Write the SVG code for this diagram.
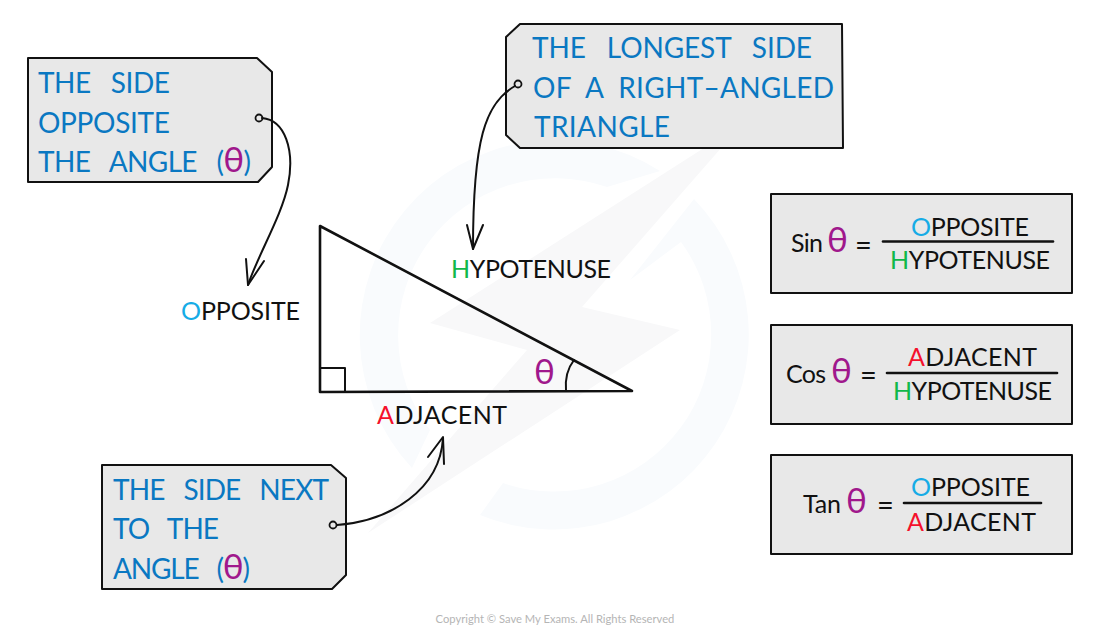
<svg xmlns="http://www.w3.org/2000/svg" width="1100" height="641" viewBox="0 0 1100 641">
<style>
text{font-family:"Lato","Liberation Sans",sans-serif;}
.box{fill:#e8e8e8;stroke:#111;stroke-width:2;stroke-linejoin:round}
.note{font-size:28px;fill:#0a78c2;font-weight:400}
.lab{font-size:25px;fill:#111}
.eq{font-size:29px;fill:#111}
.th{fill:#a0188c;font-size:35px}
.o{fill:#16ace6}.h{fill:#12b84a}.a{fill:#f5102c}
.line{fill:none;stroke:#111;stroke-width:2;stroke-linecap:round;stroke-linejoin:round}
.thick{stroke-width:2.6}
.dot{fill:none;stroke:#111;stroke-width:1.8}
.wm{fill:#f9fbfd}
</style>
<g id="watermark">
<path class="wm" d="M412 468A195 195 0 0 1 660 171L607 187A157 157 0 0 0 430 430Z"/>
<path class="wm" d="M694 199A195 195 0 0 1 480 515L503 483A157 157 0 0 0 681 242L630 280Z"/>
<polygon points="743,123 430,323 527,350 368,533 680,330 582,307" fill="#f8f8f9"/>
</g>
<g id="note-opposite">
<polygon class="box" points="28,58 257,58 272,72 272,167 258,182 28,182"/>
<text class="note" x="38" y="93" textLength="132" lengthAdjust="spacing" xml:space="preserve">THE   SIDE</text>
<text class="note" x="38" y="133" textLength="132" lengthAdjust="spacing">OPPOSITE</text>
<text class="note" x="38" y="172" xml:space="preserve" textLength="213" lengthAdjust="spacing">THE   ANGLE   (<tspan class="th">θ</tspan>)</text>
</g>
<g id="note-hypotenuse">
<polygon class="box" points="520,24 842,24 843,148 520,148 506,135 506,37"/>
<text class="note" x="532" y="58" xml:space="preserve" textLength="280" lengthAdjust="spacing">THE   LONGEST   SIDE</text>
<text class="note" x="533" y="98" xml:space="preserve" textLength="301" lengthAdjust="spacing">OF  A  RIGHT–ANGLED</text>
<text class="note" x="534" y="137" textLength="136" lengthAdjust="spacing">TRIANGLE</text>
</g>
<g id="note-adjacent">
<polygon class="box" points="102,465 331,465 346,478 346,575 332,589 102,589"/>
<text class="note" x="113" y="500" xml:space="preserve" textLength="216" lengthAdjust="spacing">THE   SIDE   NEXT</text>
<text class="note" x="113" y="539" xml:space="preserve" textLength="106" lengthAdjust="spacing">TO   THE</text>
<text class="note" x="113" y="579" xml:space="preserve" textLength="137" lengthAdjust="spacing">ANGLE   (<tspan class="th">θ</tspan>)</text>
</g>
<g id="triangle">
<polygon class="line thick" points="320,226 320,392 632,391"/>
<polyline class="line" points="320,368 345,368 345,392"/>
<path class="line" d="M574 360C567 369 565 380 566 391"/>
<text class="th" x="534" y="384">θ</text>
<text class="lab" x="181" y="320" textLength="119" lengthAdjust="spacing"><tspan class="o">O</tspan>PPOSITE</text>
<text class="lab" x="451" y="278" textLength="160" lengthAdjust="spacing"><tspan class="h">H</tspan>YPOTENUSE</text>
<text class="lab" x="377" y="424" textLength="130" lengthAdjust="spacing"><tspan class="a">A</tspan>DJACENT</text>
</g>
<g id="connectors">
<circle class="dot" cx="259" cy="118" r="3.5"/>
<path class="line" d="M262 118C285 120 295 150 288 185C282 215 258 255 248 285"/>
<path class="line" d="M246 259L248 285L264 261"/>
<circle class="dot" cx="518" cy="84" r="3.5"/>
<path class="line" d="M515 86C485 103 473 140 473 249"/>
<path class="line" d="M467 225L473 249L483 225"/>
<circle class="dot" cx="333" cy="525" r="3.5"/>
<path class="line" d="M337 525C390 521 440 490 443 438"/>
<path class="line" d="M428 457L443 437L444 464"/>
</g>
<g id="formula-sin">
<rect class="box" x="771" y="194" width="301" height="99"/>
<text class="lab" x="791" y="252" textLength="32" lengthAdjust="spacing">Sin</text>
<text class="th" x="827" y="252">θ</text>
<text class="eq" x="855" y="255">=</text>
<line class="line thick" x1="883" y1="241.5" x2="1053" y2="241.5"/>
<text class="lab" x="911" y="236" textLength="118" lengthAdjust="spacing"><tspan class="o">O</tspan>PPOSITE</text>
<text class="lab" x="890" y="269" textLength="160" lengthAdjust="spacing"><tspan class="h">H</tspan>YPOTENUSE</text>
</g>
<g id="formula-cos">
<rect class="box" x="771" y="325" width="301" height="99"/>
<text class="lab" x="786" y="383" textLength="40" lengthAdjust="spacing">Cos</text>
<text class="th" x="831" y="383">θ</text>
<text class="eq" x="860" y="385">=</text>
<line class="line thick" x1="887" y1="373" x2="1057" y2="373"/>
<text class="lab" x="908" y="366" textLength="129" lengthAdjust="spacing"><tspan class="a">A</tspan>DJACENT</text>
<text class="lab" x="893" y="400" textLength="159" lengthAdjust="spacing"><tspan class="h">H</tspan>YPOTENUSE</text>
</g>
<g id="formula-tan">
<rect class="box" x="771" y="455" width="301" height="99"/>
<text class="lab" x="803" y="513" textLength="38" lengthAdjust="spacing">Tan</text>
<text class="th" x="846" y="513">θ</text>
<text class="eq" x="877" y="515">=</text>
<line class="line thick" x1="904" y1="503" x2="1041" y2="503"/>
<text class="lab" x="911" y="496" textLength="119" lengthAdjust="spacing"><tspan class="o">O</tspan>PPOSITE</text>
<text class="lab" x="907" y="531" textLength="129" lengthAdjust="spacing"><tspan class="a">A</tspan>DJACENT</text>
</g>
<text id="copyright" x="555" y="623" font-size="11.2" fill="#b5b5b5" text-anchor="middle">Copyright © Save My Exams. All Rights Reserved</text>
</svg>
